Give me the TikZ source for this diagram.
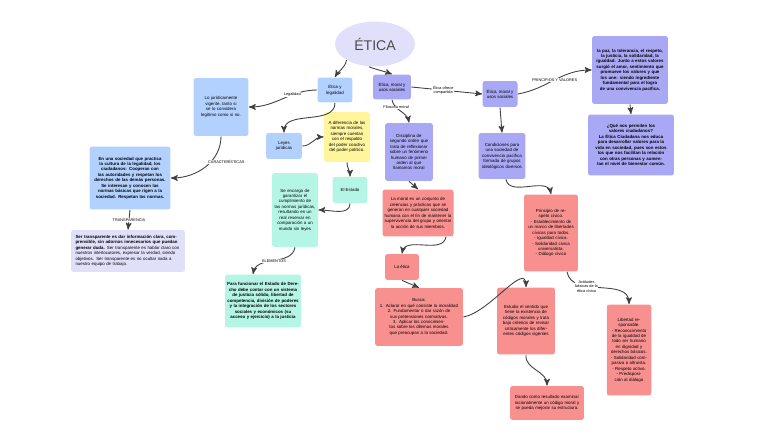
\documentclass[tikz,border=0pt]{standalone}
\usepackage{tikz}
\usetikzlibrary{arrows,calc,shapes.geometric}
\usepackage{fontspec}
\setmainfont{Liberation Sans}
\setsansfont{Liberation Sans}
\definecolor{azul}{HTML}{B3D1FF}
\definecolor{lila}{HTML}{A8A8F5}
\definecolor{lilac}{HTML}{E0E0FB}
\definecolor{rojo}{HTML}{F89090}
\definecolor{menta}{HTML}{B5F5E6}
\definecolor{amar}{HTML}{FFF59D}
\tikzset{
	caja/.style={rounded corners=1.5pt,align=center,inner sep=1pt,font=\fontsize{2.5}{3.1}\selectfont},
	negra/.style={font=\fontsize{2.5}{3.1}\selectfont\bfseries},
	flecha/.style={->,>=stealth',draw=black!75,line width=0.5pt},
	etiq/.style={font=\fontsize{2.2}{2.7}\selectfont,fill=white,inner sep=0.3pt,align=center}
}
\begin{document}
\begin{tikzpicture}[x=0.02cm,y=-0.02cm]
		\useasboundingbox (0,0) rectangle (768,439);
		\node[ellipse,fill=lilac,minimum width=80*0.02cm,minimum height=45*0.02cm,font=\fontsize{8}{9}\selectfont,text=black!70] (etica) at (375,44) {ÉTICA};
		\node[caja,fill=azul,minimum width=0.7cm,minimum height=0.5cm] (eleg) at (335,90) {Ética y\\legalidad};
		\node[caja,fill=azul,minimum width=1.1cm,minimum height=1.16cm,text width=0.8cm] (juri) at (221,107) {Lo jurídicamente vigente, tanto si se lo considera legítimo como si no.};
		\node[caja,negra,fill=azul,minimum width=1.62cm,minimum height=1.26cm,text width=1.5cm] (cult) at (130,178) {En una sociedad que practica la cultura de la legalidad, los ciudadanos: Cooperan con las autoridades y respetan los derechos de las demás personas. Se interesan y conocen las normas básicas que rigen a la sociedad. Respetan las normas.};
		\node[caja,fill=lilac,minimum width=2.28cm,minimum height=0.84cm,text width=2.1cm,align=left] (transp) at (128,251) {\textbf{Ser transparente es dar información clara, comprensible, sin adornos innecesarios que puedan generar duda.} Ser transparente es hablar claro con nuestros interlocutores, expresar la verdad, siendo objetivos. Ser transparente es no ocultar nada a nuestro equipo de trabajo.};
		\node[caja,fill=azul,minimum width=0.72cm,minimum height=0.52cm] (leyes) at (284,146) {Leyes\\jurídicas};
		\node[caja,fill=amar,minimum width=0.92cm,minimum height=1cm,text width=0.85cm] (adif) at (347,137) {A diferencia de las normas morales, siempre cuentan con el respaldo del poder coactivo del poder político.};
		\node[caja,fill=menta,minimum width=0.7cm,minimum height=0.52cm] (estado) at (350,190) {El Estado};
		\node[caja,fill=menta,minimum width=0.92cm,minimum height=1.48cm,text width=0.85cm] (encarga) at (295,210) {Se encarga de garantizar el cumplimiento de las normas jurídicas, resultando en un real reservar en comparación a un mundo sin leyes};
		\node[caja,negra,fill=menta,minimum width=1.52cm,minimum height=1.06cm,text width=1.45cm] (func) at (263,301) {Para funcionar el Estado de Derecho debe contar con un sistema de justicia sólido, libertad de competencia, división de poderes y la integración de los sectores sociales y económicos (su acceso y ejercicio) a la justicia};
		\node[caja,fill=lila,minimum width=0.76cm,minimum height=0.5cm] (emus) at (392,87) {Ética, moral y\\usos sociales};
		\node[caja,fill=lila,minimum width=0.96cm,minimum height=1.16cm,text width=0.85cm] (disc) at (409,152) {Disciplina de segundo orden que trata de reflexionar sobre un fenómeno humano de primer orden al que llamamos moral};
		\node[caja,fill=rojo,minimum width=1.42cm,minimum height=0.94cm,text width=1.35cm] (moral) at (418,213) {La moral es un conjunto de creencias y prácticas que se generan en cualquier sociedad humana con el fin de mantener la supervivencia del grupo y orientar la acción de sus miembros.};
		\node[caja,fill=rojo,minimum width=0.68cm,minimum height=0.52cm] (laet) at (402,267) {La ética};
		\node[caja,fill=rojo,minimum width=1.76cm,minimum height=1.16cm,text width=1.6cm] (busca) at (419,317) {Busca:\\1. Aclarar en qué consiste la moralidad\\2. Fundamentar o dar razón de sus pretensiones normativas.\\3. Aplicar los conocimientos sobre los dilemas morales que preocupan a la sociedad.};
		\node[caja,fill=rojo,minimum width=1.16cm,minimum height=1.34cm,text width=1.05cm] (estud) at (526,321) {Estudia el sentido que tiene la existencia de códigos morales y trata bajo criterios de revisar críticamente los diferentes códigos vigentes};
		\node[caja,fill=rojo,minimum width=1.48cm,minimum height=0.68cm,text width=1.35cm] (dando) at (547,403) {Dando como resultado examinar racionalmente un código moral y se pueda mejorar su estructura.};
		\node[caja,fill=lila,minimum width=0.7cm,minimum height=0.52cm] (emus2) at (500,94) {Ética, moral y\\usos sociales};
		\node[caja,fill=lila,minimum width=0.94cm,minimum height=0.92cm,text width=0.85cm] (cond) at (502,156) {Condiciones para una sociedad de convivencia pacífica formada de grupos ideológicos diversos};
		\node[caja,fill=rojo,minimum width=1.08cm,minimum height=1.54cm,text width=0.95cm] (princ) at (551,233) {Principio de respeto cívico.\\- Establecimiento de un marco de libertades cívicas para todos.\\- Igualdad cívica.\\- Solidaridad cívica universalista.\\- Diálogo cívico};
		\node[caja,fill=rojo,minimum width=0.88cm,minimum height=1.82cm,text width=0.82cm] (libert) at (629,350) {Libertad responsable.\\- Reconocimiento de la igualdad de todo ser humano en dignidad y derechos básicos.\\- Solidaridad compasiva o altruista.\\- Respeto activo.\\- Predisposición al diálogo};
		\node[caja,negra,fill=lila,minimum width=1.52cm,minimum height=1.36cm,text width=1.4cm] (paz) at (630,70) {la paz, la tolerancia, el respeto, la justicia, la solidaridad, la igualdad. Junto a estos valores surgió el amor, sentimiento que promueve los valores y que los une: siendo ingrediente fundamental para el logro de una convivencia pacífica.};
		\node[caja,negra,fill=lila,minimum width=1.72cm,minimum height=1.22cm,text width=1.6cm] (perm) at (631,145) {¿Qué nos permiten los valores ciudadanos?\\La Ética Ciudadana nos educa para desarrollar valores para la vida en sociedad, pues son estos los que nos facilitan la relación con otras personas y aumentan el nivel de bienestar común.};
%
		\draw[flecha] (etica.south west) to[out=-100,in=60] (eleg.north);
		\draw[flecha] ($(etica.south)+(-6,0)$) to[out=-20,in=160] (emus.north);
		\draw[flecha] (eleg.west) to[out=180,in=0] node[etiq,pos=0.35]{Legalidad} (juri.east);
		\draw[flecha] (juri.south) to[out=-90,in=0] node[etiq,pos=0.4,right=-2pt]{CARACTERÍSTICAS} (cult.east);
		\draw[flecha] (cult.south) -- node[etiq]{TRANSPARENCIA} (transp.north);
		\draw[flecha] (eleg.south) to[out=-90,in=90] (leyes.north);
		\draw[flecha] (leyes.east) to[out=0,in=180] (adif.west);
		\draw[flecha] (adif.south) to[out=-90,in=90] (estado.north);
		\draw[flecha] (estado.south) to[out=-90,in=0] (encarga.east);
		\draw[flecha] (encarga.south) to[out=-100,in=80] node[etiq,pos=0.5]{ELEMENTOS} ($(func.north)+(-10,0)$);
		\draw[flecha] (emus.south) to[out=-80,in=100] node[etiq,pos=0.3]{Filosofía moral} (disc.north);
		\draw[flecha] (disc.south) -- (moral.north);
		\draw[flecha] ($(moral.south)+(28,0)$) to[out=-100,in=80] (laet.north);
		\draw[flecha] (laet.south) -- (busca.north);
		\draw[flecha] (busca.east) to[out=10,in=90] (estud.north);
		\draw[flecha] (estud.south) to[out=-95,in=90] (dando.north);
		\draw[flecha] (emus.east) -- node[etiq,pos=0.45]{Ética ofrece\\compartida} (emus2.west);
		\draw[flecha] (emus2.east) to[out=10,in=180] node[etiq,pos=0.5]{PRINCIPIOS Y VALORES} (paz.west);
		\draw[flecha] (paz.south) -- (perm.north);
		\draw[flecha] (emus2.south) -- (cond.north);
		\draw[flecha] ($(cond.south)+(4,0)$) to[out=-80,in=100] (princ.north);
		\draw[flecha] ($(princ.south)+(16,0)$) to[out=-80,in=90] node[etiq,pos=0.35]{Actitudes\\básicas de la\\ética cívica} (libert.north);
	\end{tikzpicture}
\end{document}
